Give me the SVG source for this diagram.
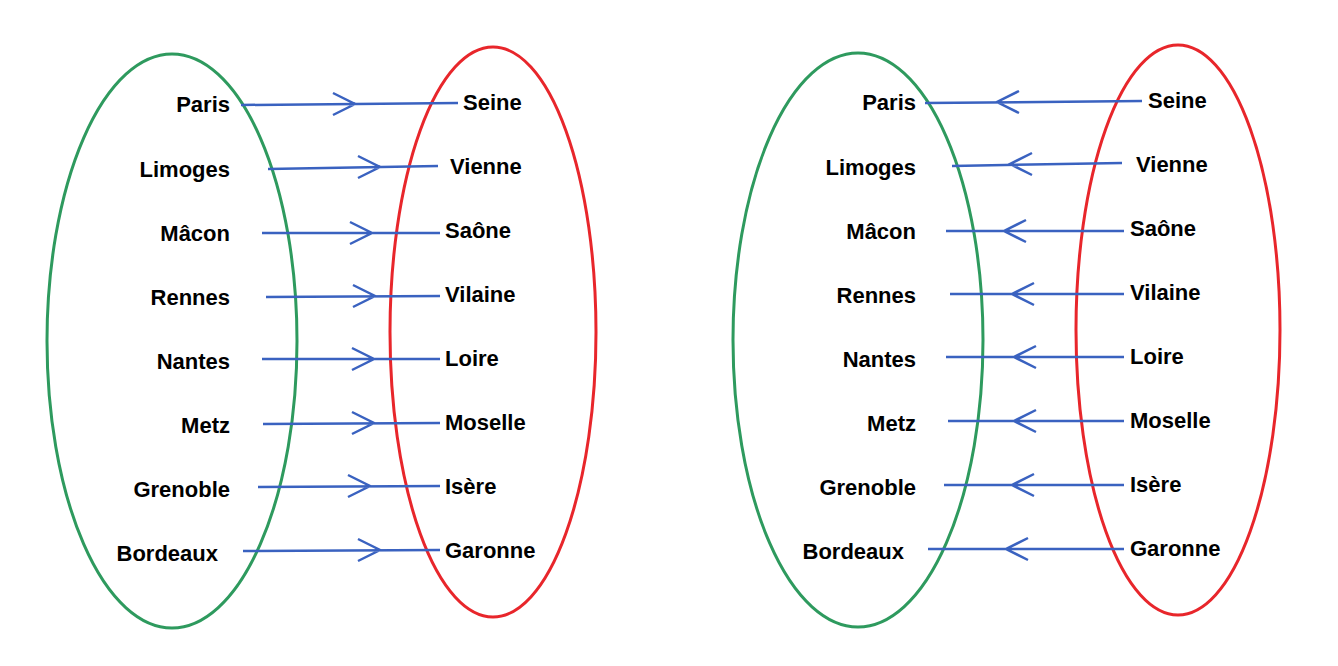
<svg xmlns="http://www.w3.org/2000/svg" width="1338" height="666" viewBox="0 0 1338 666">
<style>
.g{fill:none;stroke:#2e9a5e;stroke-width:3}
.r{fill:none;stroke:#e8262b;stroke-width:3}
.a{fill:none;stroke:#3a62c0;stroke-width:2.5;stroke-linejoin:miter}
text{font-family:"Liberation Sans",Arial,sans-serif;font-weight:bold;font-size:22px;fill:#000;dominant-baseline:central}
.e{text-anchor:end}
</style>
<rect width="1338" height="666" fill="#fff"/>
<g id="left-set"><ellipse class="g" cx="172" cy="341" rx="125" ry="287"/>
<text class="e" x="230" y="104">Paris</text><text class="e" x="230" y="169">Limoges</text><text class="e" x="230" y="233">Mâcon</text><text class="e" x="230" y="297">Rennes</text><text class="e" x="230" y="361">Nantes</text><text class="e" x="230" y="425">Metz</text><text class="e" x="230" y="489">Grenoble</text><text class="e" x="218" y="553">Bordeaux</text></g>
<g id="left-rivers"><ellipse class="r" cx="493" cy="332" rx="103" ry="285"/>
<text x="463" y="102">Seine</text><text x="450" y="166">Vienne</text><text x="445" y="230">Saône</text><text x="445" y="294">Vilaine</text><text x="445" y="358">Loire</text><text x="445" y="422">Moselle</text><text x="445" y="486">Isère</text><text x="445" y="550">Garonne</text></g>
<g id="right-set"><ellipse class="g" cx="858" cy="340" rx="125" ry="287"/>
<text class="e" x="916" y="102">Paris</text><text class="e" x="916" y="167">Limoges</text><text class="e" x="916" y="231">Mâcon</text><text class="e" x="916" y="295">Rennes</text><text class="e" x="916" y="359">Nantes</text><text class="e" x="916" y="423">Metz</text><text class="e" x="916" y="487">Grenoble</text><text class="e" x="904" y="551">Bordeaux</text></g>
<g id="right-rivers"><ellipse class="r" cx="1178" cy="330" rx="102" ry="285"/>
<text x="1148" y="100">Seine</text><text x="1136" y="164">Vienne</text><text x="1130" y="228">Saône</text><text x="1130" y="292">Vilaine</text><text x="1130" y="356">Loire</text><text x="1130" y="420">Moselle</text><text x="1130" y="484">Isère</text><text x="1130" y="548">Garonne</text></g>
<g id="connectors">
<path class="a" d="M241 105L458 103M333 93L355 104L333 115"/>
<path class="a" d="M268 169L438 166M358 156L380 167L358 178"/>
<path class="a" d="M262 233L440 233M350 222L372 233L350 244"/>
<path class="a" d="M266 297L440 296M353 285L375 296L353 307"/>
<path class="a" d="M262 359L440 359M352 348L374 359L352 370"/>
<path class="a" d="M263 424L440 423M352 412L374 423L352 434"/>
<path class="a" d="M258 487L440 486M348 475L370 486L348 497"/>
<path class="a" d="M243 551L440 550M358 539L380 550L358 561"/>
<path class="a" d="M925 103L1142 101M1019 91L997 102L1019 113"/>
<path class="a" d="M952 166L1122 163M1032 153L1010 164L1032 175"/>
<path class="a" d="M946 231L1124 231M1026 220L1004 231L1026 242"/>
<path class="a" d="M950 294L1124 294M1034 283L1012 294L1034 305"/>
<path class="a" d="M946 357L1124 357M1036 346L1014 357L1036 368"/>
<path class="a" d="M948 421L1124 421M1036 410L1014 421L1036 432"/>
<path class="a" d="M944 485L1124 485M1034 474L1012 485L1034 496"/>
<path class="a" d="M928 549L1124 549M1028 538L1006 549L1028 560"/>
</g>
</svg>
